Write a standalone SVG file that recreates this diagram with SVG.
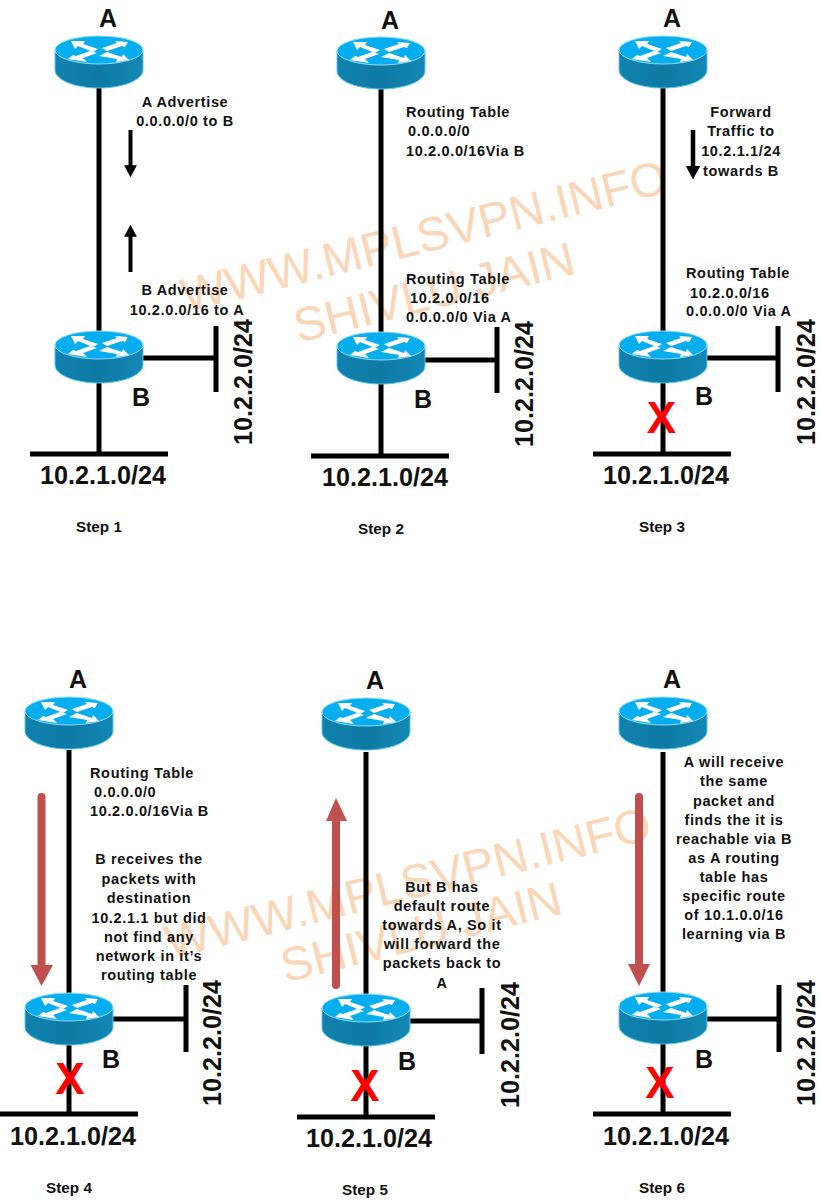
<svg xmlns="http://www.w3.org/2000/svg" width="823" height="1200" viewBox="0 0 823 1200">
<style>
text{font-family:"Liberation Sans",Arial,sans-serif;font-weight:700;fill:#111}
.n{font-size:25px;text-anchor:middle}
.net{font-size:25.2px;text-anchor:middle}
.s{font-size:15.3px;text-anchor:middle}
.t{font-size:14.5px;letter-spacing:.65px}
.c{text-anchor:middle}
.l{stroke:#000;stroke-width:5;fill:none}
.wm{font-weight:400;font-size:47.5px;fill:#fad6b9;text-anchor:middle}
.x{fill:#f00;font-size:44px;font-weight:700;text-anchor:middle}
.red{stroke:#c0504d;stroke-width:8;stroke-linecap:round;fill:none}
.hd{fill:#c0504d}
.ba{stroke:#000;fill:none}
</style>
<defs>
<linearGradient id="side" x1="0" x2="1" y1="0" y2="0"><stop offset="0" stop-color="#1182ae"/><stop offset=".5" stop-color="#0d7aa4"/><stop offset="1" stop-color="#1488b5"/></linearGradient>
<g id="router">
<path d="M-44 -2V18C-44 28-24 36 0 36S44 28 44 18V-2Z" fill="url(#side)" stroke="#5cc6ea" stroke-width="1"/>
<ellipse cx="0" cy="-2" rx="44" ry="14" fill="#06aef0" stroke="#8fdcf6" stroke-width="1"/>
<path d="M-28 -11L-14 -11L-16 -8L-1 -3L-6 0L-21 -6L-24 -3Z" fill="#fff"/>
<path d="M29 -10L16 -11L18 -9L3 -4L8 -1L23 -6L26 -5Z" fill="#fff"/>
<path d="M-31 7L-26 3L-23 4L-9 -1L-2 1L-16 6L-12 10Z" fill="#fff"/>
<path d="M30 8L17 10L18 7L0 4L8 0L23 5L24 2Z" fill="#fff"/>
</g>
<marker id="ah" markerWidth="4" markerHeight="4" refX="0.2" refY="2" orient="auto"><path d="M0 .4L3 2L0 3.6Z" fill="#000"/></marker>
</defs>

<g id="watermarks">
<text class="wm" transform="translate(428 252) rotate(-14)">WWW.MPLSVPN.INFO</text>
<text class="wm" transform="translate(438 308) rotate(-14)">SHIVLU JAIN</text>
<text class="wm" transform="translate(412 899) rotate(-14)">WWW.MPLSVPN.INFO</text>
<text class="wm" transform="translate(425 948) rotate(-14)">SHIVLU JAIN</text>
</g>

<g id="connectors">
<path class="l" d="M99 88V453M143 358H216M216 326V392M30 454H168"/>
<path class="l" d="M381 88V455M425 360H497M497 327V393M311 456H449"/>
<path class="l" d="M663 88V453M705 358H778M778 326V392M593 454H731"/>
<path class="l" d="M69 750V1113M112 1019H186M186 985V1052M0 1114H138"/>
<path class="l" d="M366 752V1115M410 1021H482M482 988V1054M297 1117H435"/>
<path class="l" d="M663 752V1113M707 1019H779M779 985V1052M593 1114H731"/>
<path class="ba" stroke-width="4" d="M130.500 130V166" marker-end="url(#ah)"/>
<path class="ba" stroke-width="4" d="M130.500 272V236" marker-end="url(#ah)"/>
<path class="ba" stroke-width="4.500" d="M693 130V167" marker-end="url(#ah)"/>
<path class="red" d="M41.500 797V968"/><path class="hd" d="M30.500 965H53L41.500 986Z"/>
<path class="red" d="M336 985V818"/><path class="hd" d="M326 821H347L336 798Z"/>
<path class="red" d="M639 797V968"/><path class="hd" d="M628 964H650L639 986Z"/>
</g>

<g id="router-a1"><use href="#router" x="99" y="52"/><text class="n" x="108" y="27">A</text></g>
<g id="router-b1"><use href="#router" x="99" y="347"/><text class="n" x="141" y="406">B</text></g>
<g id="router-a2"><use href="#router" x="381" y="53"/><text class="n" x="390" y="29">A</text></g>
<g id="router-b2"><use href="#router" x="381" y="348"/><text class="n" x="423" y="408">B</text></g>
<g id="router-a3"><use href="#router" x="663" y="52"/><text class="n" x="672" y="27">A</text></g>
<g id="router-b3"><use href="#router" x="663" y="347"/><text class="n" x="704" y="405">B</text></g>
<g id="router-a4"><use href="#router" x="69" y="713"/><text class="n" x="78" y="688">A</text></g>
<g id="router-b4"><use href="#router" x="69" y="1009"/><text class="n" x="111" y="1068">B</text></g>
<g id="router-a5"><use href="#router" x="366" y="714"/><text class="n" x="375" y="689">A</text></g>
<g id="router-b5"><use href="#router" x="366" y="1010"/><text class="n" x="407" y="1070">B</text></g>
<g id="router-a6"><use href="#router" x="663" y="713"/><text class="n" x="672" y="688">A</text></g>
<g id="router-b6"><use href="#router" x="663" y="1008"/><text class="n" x="704" y="1068">B</text></g>

<g id="networks">
<text class="net" x="103" y="484">10.2.1.0/24</text><text class="net" transform="translate(252 382) rotate(-90)">10.2.2.0/24</text>
<text class="net" x="385" y="486">10.2.1.0/24</text><text class="net" transform="translate(533 384) rotate(-90)">10.2.2.0/24</text>
<text class="net" x="666" y="484">10.2.1.0/24</text><text class="net" transform="translate(815 382) rotate(-90)">10.2.2.0/24</text>
<text class="net" x="73" y="1145">10.2.1.0/24</text><text class="net" transform="translate(221 1043) rotate(-90)">10.2.2.0/24</text>
<text class="net" x="369" y="1147">10.2.1.0/24</text><text class="net" transform="translate(519 1045) rotate(-90)">10.2.2.0/24</text>
<text class="net" x="666" y="1145">10.2.1.0/24</text><text class="net" transform="translate(815 1043) rotate(-90)">10.2.2.0/24</text>
</g>

<g id="steps">
<text class="s" x="99" y="532">Step 1</text><text class="s" x="381" y="534">Step 2</text><text class="s" x="662" y="532">Step 3</text>
<text class="s" x="69" y="1193">Step 4</text><text class="s" x="365" y="1195">Step 5</text><text class="s" x="662" y="1193">Step 6</text>
</g>

<g id="labels">
<text class="t c" x="185" y="107">A Advertise</text><text class="t c" x="185" y="126">0.0.0.0/0 to B</text>
<text class="t c" x="185" y="295">B Advertise</text><text class="t c" x="187" y="315">10.2.0.0/16 to A</text>
<text class="t" x="406" y="117">Routing Table</text><text class="t" x="408" y="136">0.0.0.0/0</text><text class="t" x="406" y="156">10.2.0.0/16Via B</text>
<text class="t" x="406" y="284">Routing Table</text><text class="t" x="410" y="303">10.2.0.0/16</text><text class="t" x="406" y="322">0.0.0.0/0 Via A</text>
<text class="t c" x="741" y="117">Forward</text><text class="t c" x="741" y="136">Traffic to</text><text class="t c" x="741" y="156">10.2.1.1/24</text><text class="t c" x="741" y="176">towards B</text>
<text class="t" x="686" y="278">Routing Table</text><text class="t" x="690" y="298">10.2.0.0/16</text><text class="t" x="686" y="316">0.0.0.0/0 Via A</text>
<text class="t" x="90" y="778">Routing Table</text><text class="t" x="94" y="797">0.0.0.0/0</text><text class="t" x="90" y="816">10.2.0.0/16Via B</text>
<text class="t c" x="149" y="864">B receives the</text><text class="t c" x="149" y="884">packets with</text><text class="t c" x="149" y="903">destination</text><text class="t c" x="149" y="923">10.2.1.1 but did</text><text class="t c" x="149" y="942">not find any</text><text class="t c" x="149" y="961">network in it’s</text><text class="t c" x="149" y="980">routing table</text>
<text class="t c" x="442" y="892">But B has</text><text class="t c" x="442" y="911">default route</text><text class="t c" x="442" y="930">towards A, So it</text><text class="t c" x="442" y="949">will forward the</text><text class="t c" x="442" y="968">packets back to</text><text class="t c" x="442" y="988">A</text>
<text class="t c" x="734" y="767">A will receive</text><text class="t c" x="734" y="786">the same</text><text class="t c" x="734" y="806">packet and</text><text class="t c" x="734" y="825">finds the it is</text><text class="t c" x="734" y="844">reachable via B</text><text class="t c" x="734" y="863">as A routing</text><text class="t c" x="734" y="882">table has</text><text class="t c" x="734" y="901">specific route</text><text class="t c" x="734" y="920">of 10.1.0.0/16</text><text class="t c" x="734" y="939">learning via B</text>
</g>

<g id="failures">
<text class="x" x="661.500" y="433">X</text>
<text class="x" x="70" y="1094">X</text>
<text class="x" x="365" y="1101">X</text>
<text class="x" x="660" y="1098">X</text>
</g>
</svg>
